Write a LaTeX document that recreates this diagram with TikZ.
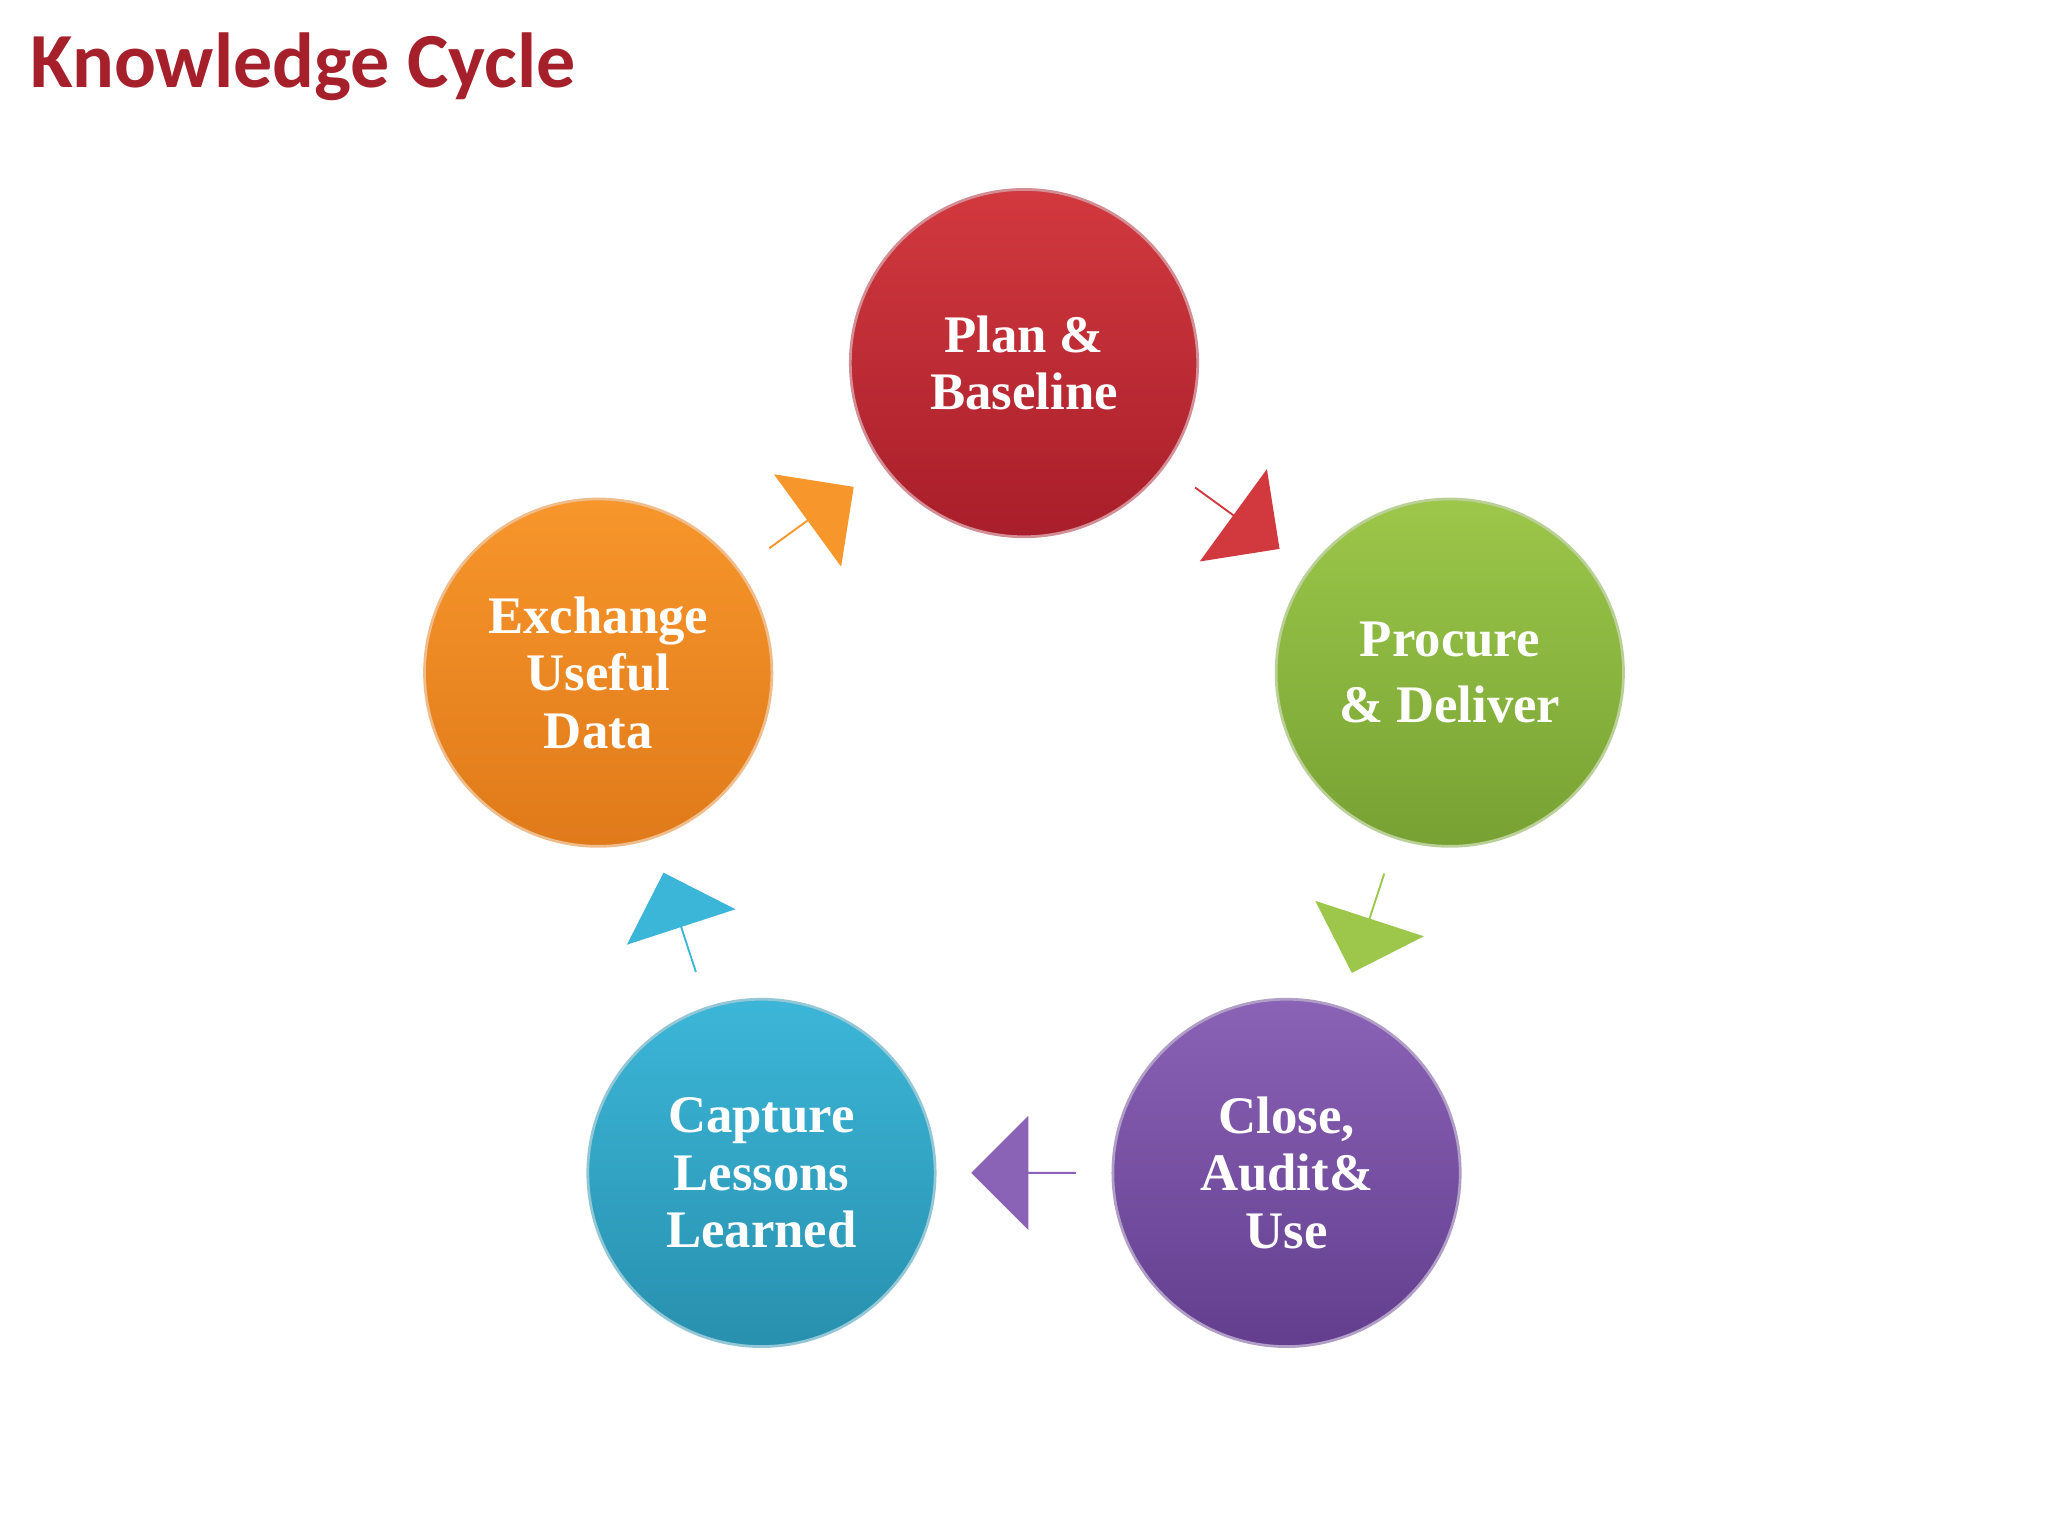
\documentclass[tikz,border=0pt]{standalone}
\usepackage{fontspec}
\setmainfont{Liberation Serif}
\newfontfamily\titlefont{Carlito}
\usetikzlibrary{shapes.arrows,calc}
\definecolor{redA}{HTML}{D2393F}\definecolor{redB}{HTML}{A81E2A}
\definecolor{grnA}{HTML}{9CC74A}\definecolor{grnB}{HTML}{77A233}
\definecolor{purA}{HTML}{8A62B6}\definecolor{purB}{HTML}{633E8E}
\definecolor{bluA}{HTML}{3CB6D8}\definecolor{bluB}{HTML}{2890AE}
\definecolor{orA}{HTML}{F7962B}\definecolor{orB}{HTML}{E07A1A}
\definecolor{titlered}{HTML}{A5202A}
\begin{document}
\begin{tikzpicture}[x=0.02cm,y=-0.02cm,
  ball/.style={circle,minimum size=5.32cm,draw=#1!50!white,line width=1.2pt,
    text=white,font=\bfseries\fontsize{23}{25}\selectfont,align=center},
  arr/.style={single arrow,minimum height=1.6cm,minimum width=1.75cm,
    single arrow head extend=0.42cm,single arrow head indent=0cm,inner sep=0pt,draw=none}]
\useasboundingbox (0,0) rectangle (1568,1176);
\node[text=titlered,anchor=west,font=\titlefont\bfseries\fontsize{34}{36}\selectfont,
  preaction={}] (t) at (17,51) {Knowledge Cycle};
\node[ball=redB,top color=redA,bottom color=redB] (p) at (784,278) {Plan \&\\Baseline};
\node[ball=grnB,top color=grnA,bottom color=grnB] (d) at (1110,515) {Procure\\[4pt]\& Deliver};
\node[ball=purB,top color=purA,bottom color=purB] (c) at (985,898) {Close,\\Audit\&\\Use};
\node[ball=bluB,top color=bluA,bottom color=bluB] (l) at (583,898) {Capture\\Lessons\\Learned};
\node[ball=orB,top color=orA,bottom color=orB] (e) at (458,515) {Exchange\\Useful\\Data};
\foreach \a/\b/\col in {p/d/redA,d/c/grnA,c/l/purA,l/e/bluA,e/p/orA}{
  \path let \p1=($(\b)-(\a)$), \n1={atan2(\y1,\x1)} in
    node[arr,fill=\col,rotate=\n1] at ($(\a)!0.5!(\b)$) {};
}
\end{tikzpicture}
\end{document}
